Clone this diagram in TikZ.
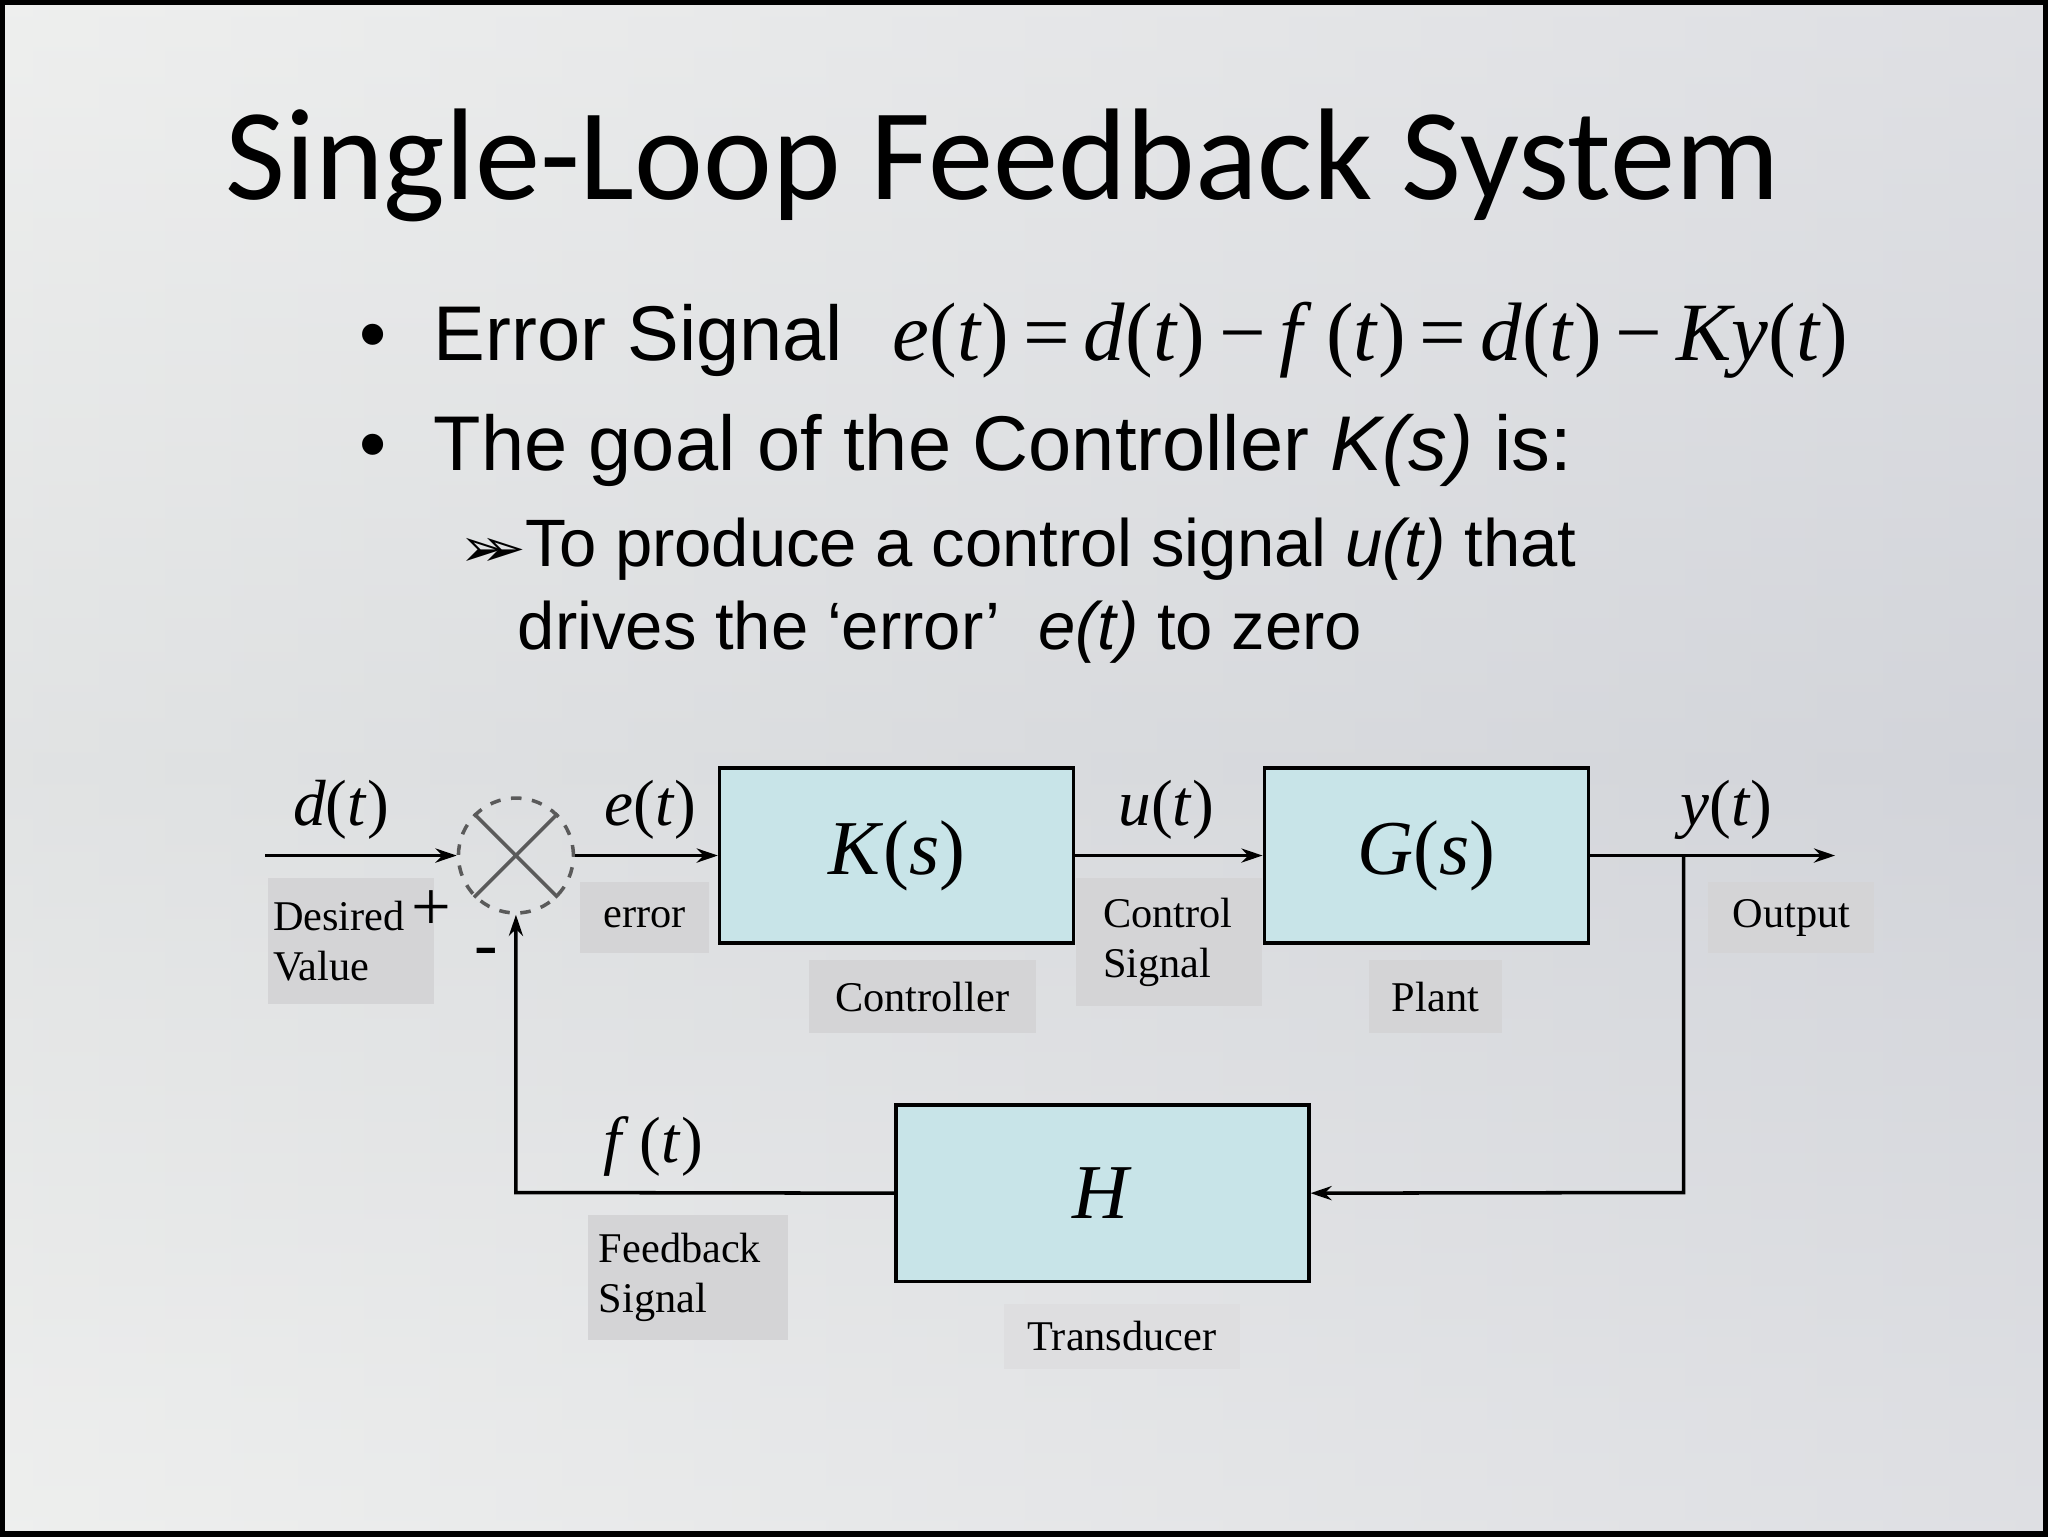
\documentclass[tikz,border=0pt]{standalone}
\usepackage{fontspec}
\setmainfont{Liberation Serif}
\newfontfamily\titlefont{Carlito}
\newfontfamily\bodyfont{Liberation Sans}
\newfontfamily\symfont{DejaVu Sans}
\usetikzlibrary{arrows.meta}
\def\P{0.3703pt}
\newcommand\iv[1]{\textit{#1}}
\begin{document}
\begin{tikzpicture}[x=0.3703pt,y=-0.3703pt,
  blk/.style={draw=black,fill={rgb,255:red,200;green,228;blue,232},line width=1pt,inner sep=0pt,font=\fontsize{22}{24}\selectfont},
  lab/.style={fill={rgb,255:red,212;green,212;blue,214},inner sep=0pt,font=\fontsize{12}{14}\selectfont,align=left},
  sig/.style={font=\fontsize{18.5}{20}\selectfont},
  wire/.style={line width=1pt},
  arr/.style={wire,-{Stealth[length=6pt,width=4pt]}}]
\useasboundingbox (0,0) rectangle (1568,1176);
\shade[left color={rgb,255:red,236;green,238;blue,236},right color={rgb,255:red,205;green,207;blue,215}] (0,0) rectangle (1568,1176);
\shade[top color={rgb,255:red,240;green,240;blue,240},bottom color={rgb,255:red,240;green,240;blue,240},middle color={rgb,255:red,215;green,217;blue,220},opacity=0.5] (0,0) rectangle (1568,1176);
\draw[line width=2pt] (1,1) rectangle (1567,1175);
% title
\node[anchor=base west,inner sep=0pt,font=\titlefont\fontsize{37}{40}\selectfont] (title) at (172,153) {Single-Loop Feedback System};
% bullets
\node[anchor=base west,inner sep=0pt,font=\bodyfont\fontsize{22}{26}\selectfont] (b1) at (275,276) {•\hspace{0.6em}Error Signal};
\node[anchor=base west,inner sep=0pt,font=\fontsize{23.5}{26}\selectfont] (eq) at (683,276) {\iv{e}(\iv{t})\,=\,\iv{d}(\iv{t})\,−\,\iv{f}\,(\iv{t})\,=\,\iv{d}(\iv{t})\,−\,\iv{Ky}(\iv{t})};
\node[anchor=base west,inner sep=0pt,font=\bodyfont\fontsize{22}{26}\selectfont] (b2) at (275,360) {•\hspace{0.6em}The goal of the Controller \textit{K(s)} is:};
\node[anchor=base west,inner sep=0pt,font=\bodyfont\fontsize{19}{22}\selectfont] (s1) at (352,434) {{\symfont\fontsize{15}{18}\selectfont ➢}\hspace{-0.35em}{\symfont\fontsize{15}{18}\selectfont ➢}To produce a control signal \textit{u(t)} that};
\node[anchor=base west,inner sep=0pt,font=\bodyfont\fontsize{19}{22}\selectfont] (s2) at (396,497) {drives the ‘error’\ \ \textit{e(t)} to zero};
% blocks
\node[blk,minimum width=271*\P,minimum height=134*\P] (K) at (686.5,655) {\iv{K}(\iv{s})};
\node[blk,minimum width=248*\P,minimum height=134*\P] (G) at (1092,655) {\iv{G}(\iv{s})};
\node[blk,minimum width=316*\P,minimum height=135*\P] (H) at (844,913.5) {\iv{H}};
% summing junction
\node[draw,dashed,circle,minimum size=88*\P,inner sep=0pt,line width=1pt,draw={rgb,255:red,90;green,90;blue,90}] (S) at (395,655) {};
\draw[line width=1pt,draw={rgb,255:red,90;green,90;blue,90}] (S.north west)--(S.south east) (S.north east)--(S.south west);
% wires
\coordinate (din) at (203,655);
\coordinate (yout) at (1405,655);
\coordinate (br) at (1289,655);
\coordinate (bd) at (1289,913);
\coordinate (fl) at (395,913);
\draw[arr] (din)--(S.west);
\draw[arr] (S.east)--(K.west);
\draw[arr] (K.east)--(G.west);
\draw[arr] (G.east)--(yout);
\draw[arr] (br)--(bd)--(H.east);
\draw[arr] (H.west)--(fl)--(S.south);
% signal labels
\node[sig] (dl) at (261,620) {\iv{d}(\iv{t})};
\node[sig] (el) at (498,620) {\iv{e}(\iv{t})};
\node[sig] (ul) at (893,620) {\iv{u}(\iv{t})};
\node[sig] (yl) at (1322,620) {\iv{y}(\iv{t})};
\node[sig] (fl2) at (500,878) {\iv{f}\,(\iv{t})};
% gray labels
\node[lab,minimum width=127*\P,minimum height=96*\P,anchor=north west,text width=120*\P] (desired) at (205,672) {Desired\\Value};
\node[font=\fontsize{20}{22}\selectfont] (plus) at (330,697) {+};
\node[font=\fontsize{20}{22}\selectfont] (minus) at (372,733) {-};
\node[lab,minimum width=99*\P,minimum height=55*\P] (errl) at (493.5,702.5) {error};
\node[lab,minimum width=174*\P,minimum height=56*\P] (ctrl) at (706,763) {Controller};
\node[lab,minimum width=143*\P,minimum height=98*\P,anchor=north west,text width=140*\P] (cs) at (823,672) {\hspace{0.6em}Control\\\hspace{0.6em}Signal};
\node[lab,minimum width=102*\P,minimum height=56*\P] (plant) at (1099,763) {Plant};
\node[lab,minimum width=127*\P,minimum height=55*\P] (outl) at (1371.5,702.5) {Output};
\node[lab,minimum width=153*\P,minimum height=95*\P,anchor=north west,text width=150*\P] (fbl) at (450,930) {\hspace{0.2em}Feedback\\\hspace{0.2em}Signal};
\node[lab,fill={rgb,255:red,222;green,222;blue,224},minimum width=180*\P,minimum height=50*\P] (tr) at (859,1023) {Transducer};
\end{tikzpicture}
\end{document}
